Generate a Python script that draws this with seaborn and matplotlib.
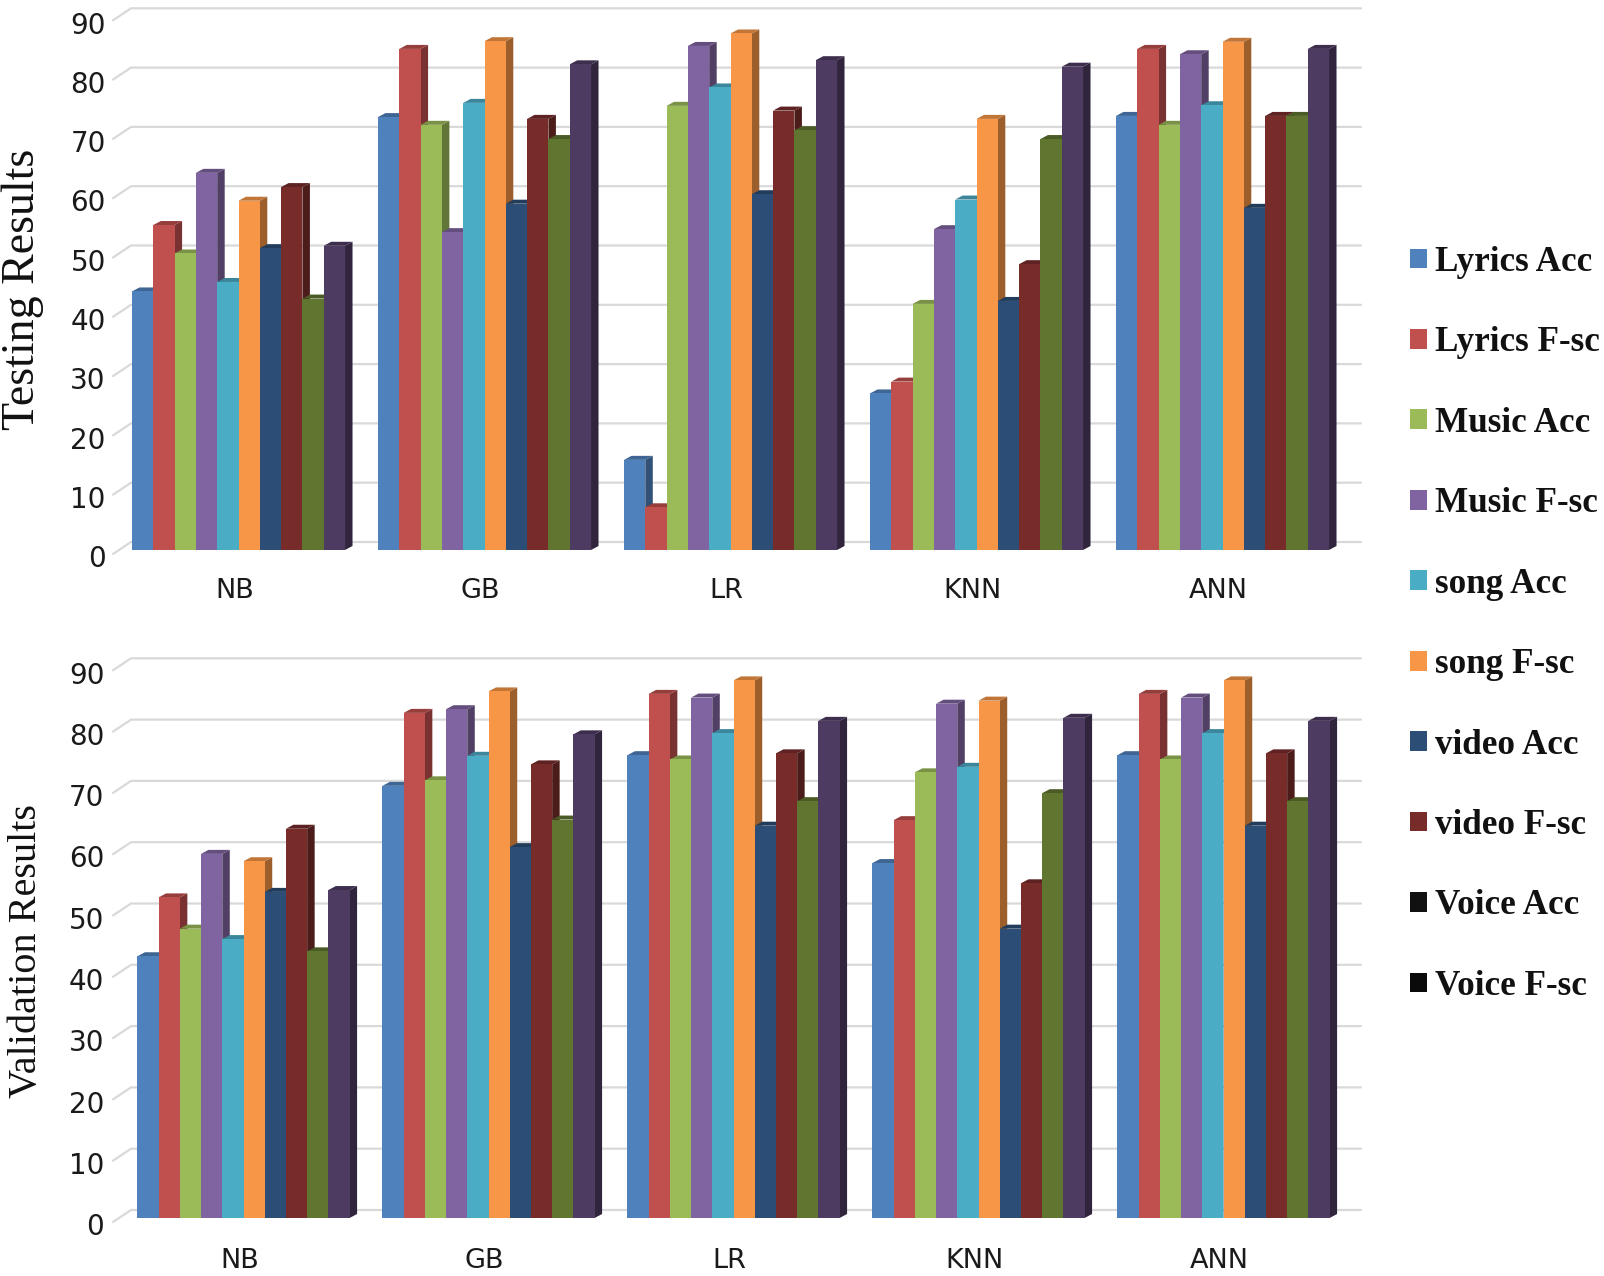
import matplotlib
matplotlib.use('Agg')
import matplotlib.pyplot as plt
from matplotlib.patches import Patch, Polygon
import pandas as pd
import seaborn as sns

models = ['NB', 'GB', 'LR', 'KNN', 'ANN']
series = ['Lyrics Acc', 'Lyrics F-sc', 'Music Acc', 'Music F-sc', 'song Acc',
          'song F-sc', 'video Acc', 'video F-sc', 'Voice Acc', 'Voice F-sc']
colors = ['#4F81BD', '#C0504D', '#9BBB59', '#8064A2', '#4BACC6',
          '#F79646', '#2C4D75', '#772C2A', '#5F7530', '#4D3B62']
legend_colors = colors[:8] + ['#111111', '#0a0a0a']
ticks = list(range(0, 100, 10))

# testing results, one list per model
test_nb = [43.6, 54.8, 50.0, 63.6, 45.2, 58.9, 50.9, 61.2, 42.4, 51.3]
test_gb = [73.0, 84.5, 71.7, 53.6, 75.4, 85.8, 58.4, 72.7, 69.3, 81.9]
test_lr = [15.2, 7.2, 74.9, 85.0, 78.0, 87.1, 60.0, 74.1, 70.8, 82.6]
test_knn = [26.4, 28.4, 41.5, 54.1, 59.1, 72.7, 42.0, 48.2, 69.3, 81.5]
test_ann = [73.2, 84.5, 71.7, 83.6, 75.0, 85.7, 57.7, 73.2, 73.2, 84.5]

# validation results
val_nb = [42.7, 52.3, 47.2, 59.4, 45.5, 58.2, 53.2, 63.5, 43.5, 53.5]
val_gb = [70.5, 82.4, 71.4, 83.0, 75.4, 85.9, 60.5, 74.0, 65.0, 78.9]
val_lr = [75.5, 85.5, 74.8, 84.9, 79.1, 87.7, 64.0, 75.8, 68.0, 81.1]
val_knn = [57.9, 64.9, 72.7, 83.9, 73.6, 84.4, 47.2, 54.6, 69.3, 81.6]
val_ann = [75.5, 85.5, 74.8, 84.9, 79.1, 87.7, 64.0, 75.8, 68.0, 81.1]

W, H = 1604, 1276
GRID = '#D9D9D9'


def long_table(rows):
    recs = []
    for m, row in zip(models, rows):
        for s, v in zip(series, row):
            recs.append({'model': m, 'series': s, 'value': v})
    return pd.DataFrame(recs)


def shade(c, f):
    r, g, b = matplotlib.colors.to_rgb(c)
    return (r * f, g * f, b * f)


def panel(fig, rows, left, right, y0, y90, ylabel, ylabel_xy, ylabel_size, tick_pad, x_pad):
    ax = fig.add_axes([left / W, 1 - y0 / H, (right - left) / W, (y0 - y90) / H])
    sns.barplot(data=long_table(rows), x='model', y='value', hue='series',
                order=models, hue_order=series, palette=colors, saturation=1,
                width=0.866, gap=0, linewidth=0, legend=False, ax=ax)
    ax.set_ylim(0, 90)
    ax.set_xlim(-0.5, 4.5)
    ax.patch.set_alpha(0)
    sns.despine(ax=ax, left=True, bottom=True)

    # pixel sizes of the fake 3d depth, turned into data units
    xpx = (right - left) / 5
    ypx = (y0 - y90) / 90
    dx, dy = 7.5 / xpx, 4 / ypx

    # gridlines: a slanted bit on the left, then flat along the back wall
    x_front = -0.5 - (left - 113) / xpx
    x_back = -0.5 + (131 - left) / xpx
    x_end = -0.5 + (1361 - left) / xpx
    for t in ticks:
        ax.plot([x_front, x_back, x_end], [t - 4 / ypx, t + 8 / ypx, t + 8 / ypx],
                color=GRID, lw=1.6, zorder=0.5, clip_on=False, solid_joinstyle='round')

    for i, cont in enumerate(ax.containers):
        for bar in cont:
            x, w, h = bar.get_x(), bar.get_width(), bar.get_height()
            bar.set_zorder(3 + i + 0.5)
            side = Polygon([(x + w, 0), (x + w + dx, dy), (x + w + dx, h + dy), (x + w, h)],
                           fc=shade(colors[i], 0.63), ec='none', zorder=3 + i, clip_on=False)
            top = Polygon([(x, h), (x + dx, h + dy), (x + w + dx, h + dy), (x + w, h)],
                          fc=shade(colors[i], 0.78), ec='none', zorder=3 + i, clip_on=False)
            ax.add_patch(side)
            ax.add_patch(top)

    ax.set_yticks(ticks)
    ax.set_yticklabels([str(t) for t in ticks], fontsize=20, color='#1a1a1a')
    ax.tick_params(axis='y', length=0, pad=tick_pad)
    shift = matplotlib.transforms.ScaledTranslation(0, -4.5 / 72, fig.dpi_scale_trans)
    for lab in ax.get_yticklabels():
        lab.set_transform(lab.get_transform() + shift)
    ax.tick_params(axis='x', length=0, pad=x_pad)
    ax.set_xticks(range(5))
    ax.set_xticklabels(models, fontsize=19.5, color='#1a1a1a')
    shift_x = matplotlib.transforms.ScaledTranslation(-4 / 100, 0, fig.dpi_scale_trans)
    for lab in ax.get_xticklabels():
        lab.set_transform(lab.get_transform() + shift_x)
    ax.set_xlabel('')
    ax.set_ylabel('')
    fig.text(ylabel_xy[0] / W, 1 - ylabel_xy[1] / H, ylabel, rotation=90, ha='center', va='center',
             family='Liberation Serif', fontsize=ylabel_size, color='#111111')
    return ax


sns.set_theme(style='white')
plt.rcParams['font.family'] = ['DejaVu Sans']
fig = plt.figure(figsize=(W / 100, H / 100), dpi=100, facecolor='white')

panel(fig, [test_nb, test_gb, test_lr, test_knn, test_ann], 115.5, 1345.5, 550, 16.3,
      'Testing Results', (23, 289), 33, 7, 20)
panel(fig, [val_nb, val_gb, val_lr, val_knn, val_ann], 121, 1346, 1218, 666.3,
      'Validation Results', (27, 951), 29, 12, 21.5)

handles = [Patch(fc=c, ec='none') for c in legend_colors]
fig.legend(handles, series, loc='upper left', bbox_to_anchor=(1410 / W, 1 - 246 / H),
           frameon=False, prop={'family': 'Liberation Serif', 'weight': 'bold', 'size': 25.3},
           labelspacing=1.35, handlelength=0.49, handleheight=0.49, handletextpad=0.23,
           borderpad=0, borderaxespad=0, labelcolor='#111111')

fig.savefig('out.png', dpi=100, facecolor='white')
